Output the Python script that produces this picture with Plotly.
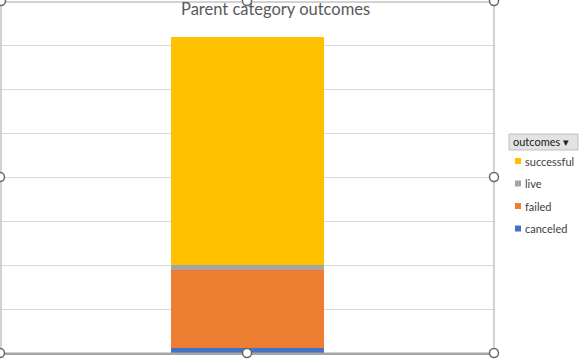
import plotly.graph_objects as go

categories = ["Total"]
series_names = ["canceled", "failed", "live", "successful"]
series_values = [[12], [177], [11], [518]]
series_colors = ["#4472C4", "#ED7D31", "#A5A5A5", "#FFC000"]
legend_title = "outcomes"
chart_title = "Parent category outcomes"

W, H = 583, 362
L, R, T, B = 1, 89, 1, 9
PW, PH = W - L - R, H - T - B

def px(x):
    return (x - L) / PW

def py(y):
    return (H - B - y) / PH

fig = go.Figure()
for name, vals, col in zip(series_names, series_values, series_colors):
    fig.add_trace(go.Bar(x=categories, y=vals, name=name, marker_color=col,
                         marker_line_width=0, width=0.312, showlegend=False))

fig.update_layout(
    barmode="stack", width=W, height=H,
    margin=dict(l=L, r=R, t=T, b=B, pad=0),
    plot_bgcolor="white", paper_bgcolor="white",
    xaxis=dict(range=[-0.5, 0.5], showticklabels=False, showgrid=False,
               zeroline=False, showline=True, linecolor="#A6A6A6", linewidth=1.5, ticks=""),
    yaxis=dict(range=[0, 800], dtick=100, showticklabels=False, showgrid=True,
               gridcolor="#D9D9D9", gridwidth=1, zeroline=False, showline=False, ticks=""),
    font=dict(family="Lato", color="#404040"),
)

shapes = []
# chart border
shapes.append(dict(type="rect", xref="paper", yref="paper", x0=px(1), x1=px(494), y0=py(353), y1=py(2),
                   line=dict(color="#A6A6A6", width=1), fillcolor="rgba(0,0,0,0)", layer="above"))
# selection handles
for hx, hy in [(1, 1), (247, 1), (494, 1), (0, 177), (494, 177), (0, 353), (247, 353), (494, 353)]:
    shapes.append(dict(type="circle", xref="paper", yref="paper", xsizemode="pixel", ysizemode="pixel",
                       xanchor=px(hx), yanchor=py(hy), x0=-4.5, x1=4.5, y0=-4.5, y1=4.5,
                       line=dict(color="#666666", width=1.5), fillcolor="white", layer="above"))
# legend filter button
shapes.append(dict(type="rect", xref="paper", yref="paper", x0=px(509), x1=px(578), y0=py(150), y1=py(134),
                   line=dict(color="#BFBFBF", width=1), fillcolor="#E3E3E3", layer="above"))
annotations = [
    dict(text=chart_title, xref="paper", yref="paper", x=px(275), y=py(9), xanchor="center", yanchor="middle",
         showarrow=False, font=dict(size=16.5, color="#595959", family="Lato")),
    dict(text=legend_title + " \u25BE", xref="paper", yref="paper", x=px(511), y=py(142), xanchor="left",
         yanchor="middle", showarrow=False, font=dict(size=11, color="#202020", family="Lato")),
]
legend_order = list(reversed(range(len(series_names))))
for i, idx in enumerate(legend_order):
    cy = 161 + 22.5 * i
    shapes.append(dict(type="rect", xref="paper", yref="paper", x0=px(515), x1=px(521), y0=py(cy + 3), y1=py(cy - 3),
                       line=dict(width=0), fillcolor=series_colors[idx], layer="above"))
    annotations.append(dict(text=series_names[idx], xref="paper", yref="paper", x=px(523), y=py(cy),
                            xanchor="left", yanchor="middle", showarrow=False,
                            font=dict(size=11, color="#404040", family="Lato")))

fig.update_layout(shapes=shapes, annotations=annotations)
fig.write_html("out.html", config={"displayModeBar": False},
               post_script="document.body.style.margin='0';document.body.style.padding='0';"
                           "document.body.style.overflow='hidden';")
